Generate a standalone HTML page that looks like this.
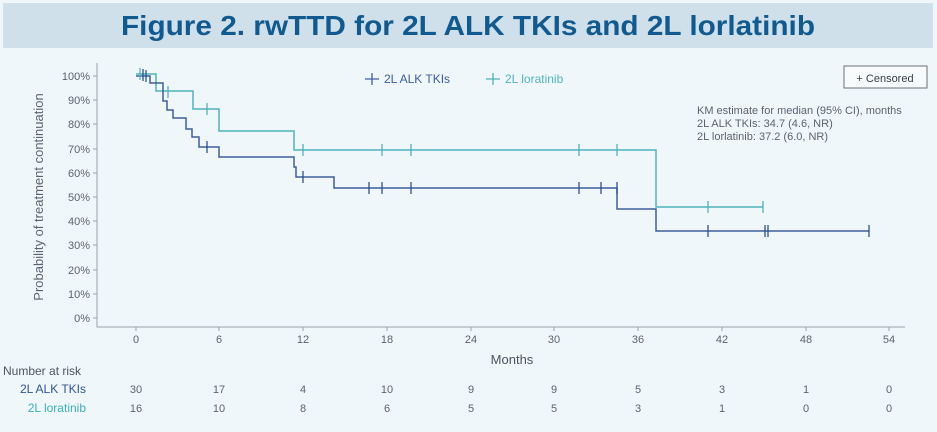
<!DOCTYPE html>
<html><head><meta charset="utf-8"><style>
html,body{margin:0;padding:0;background:#f0f7fa;}
svg{display:block;font-family:"Liberation Sans",sans-serif;}
</style></head><body>
<svg width="937" height="432" viewBox="0 0 937 432">
<rect width="937" height="432" fill="#f0f7fa"/>
<rect x="3" y="3" width="930" height="45" fill="#cfe0ea"/>
<text x="468" y="35" text-anchor="middle" font-size="28" font-weight="bold" fill="#105a8f" textLength="694" lengthAdjust="spacingAndGlyphs">Figure 2. rwTTD for 2L ALK TKIs and 2L lorlatinib</text>
<!-- axes -->
<g stroke="#9aa3ab" stroke-width="1" fill="none">
<path d="M97,63 V327 H905"/>
<path d="M93,76h4M93,100h4M93,124h4M93,149h4M93,173h4M93,197h4M93,221h4M93,245h4M93,270h4M93,294h4M93,318h4"/>
<path d="M136,327v4M219,327v4M303,327v4M387,327v4M471,327v4M554,327v4M638,327v4M722,327v4M806,327v4M889,327v4"/>
</g>
<g font-size="11" fill="#5a6470" text-anchor="end">
<text x="90" y="80">100%</text><text x="90" y="104">90%</text><text x="90" y="128">80%</text><text x="90" y="153">70%</text><text x="90" y="177">60%</text><text x="90" y="201">50%</text><text x="90" y="225">40%</text><text x="90" y="249">30%</text><text x="90" y="274">20%</text><text x="90" y="298">10%</text><text x="90" y="322">0%</text>
</g>
<text transform="translate(43,197) rotate(-90)" text-anchor="middle" font-size="13" fill="#5a6470">Probability of treatment continuation</text>
<g font-size="11" fill="#5a6470" text-anchor="middle">
<text x="136" y="343">0</text><text x="219" y="343">6</text><text x="303" y="343">12</text><text x="387" y="343">18</text><text x="471" y="343">24</text><text x="554" y="343">30</text><text x="638" y="343">36</text><text x="722" y="343">42</text><text x="806" y="343">48</text><text x="889" y="343">54</text>
</g>
<text x="512" y="364" text-anchor="middle" font-size="13" fill="#4a5560">Months</text>
<!-- curves -->
<path d="M136,74 H156 V91 H193 V109 H219 V131 H294 V150 H656 V207 H763" fill="none" stroke="#4fb3b9" stroke-width="1.5"/>
<path d="M136,76 H150 V83 H163 V101 H167 V110 H173 V118 H186 V129 H192 V137 H199 V147 H219 V157 H294 V167 H296 V177 H334 V188 H617 V209 H656 V231 H869" fill="none" stroke="#3d5e9c" stroke-width="1.5"/>
<g stroke="#4fb3b9" stroke-width="1.3">
<path d="M140,68v12M168,86v12M207,103v12M303,144v12M382,144v12M411,144v12M579,144v12M617,144v12M708,201v12M763,201v12"/>
</g>
<g stroke="#2f4f8e" stroke-width="1.3">
<path d="M143,69v12M146,70v12M207,141v12M303,171v12M369,182v12M382,182v12M411,182v12M579,182v12M601,182v12M617,182v12M708,225v12M765,225v12M768,225v12M869,225v12"/>
</g>
<!-- legend -->
<path d="M365,79h14M372,73v12" stroke="#3d5e9c" stroke-width="1.3"/>
<text x="384" y="83" font-size="12" fill="#3d5e9c">2L ALK TKIs</text>
<path d="M486,79h14M493,73v12" stroke="#4fb3b9" stroke-width="1.3"/>
<text x="505" y="83" font-size="12" fill="#4fb3b9">2L loratinib</text>
<rect x="844" y="66" width="83" height="22" fill="#f7fbfc" stroke="#6a7078" stroke-width="1"/>
<text x="885" y="82" text-anchor="middle" font-size="11" fill="#3a3f45">+ Censored</text>
<g font-size="11" fill="#5a6470">
<text x="697" y="114">KM estimate for median (95% CI), months</text>
<text x="697" y="127">2L ALK TKIs: 34.7 (4.6, NR)</text>
<text x="697" y="140">2L lorlatinib: 37.2 (6.0, NR)</text>
</g>
<!-- number at risk -->
<text x="3" y="375" font-size="12" fill="#4a5560">Number at risk</text>
<text x="86" y="393" text-anchor="end" font-size="12" fill="#2f5597">2L ALK TKIs</text>
<text x="86" y="412" text-anchor="end" font-size="12" fill="#3ab0b8">2L loratinib</text>
<g font-size="11" fill="#5a6470" text-anchor="middle">
<text x="136" y="393">30</text><text x="219" y="393">17</text><text x="303" y="393">4</text><text x="387" y="393">10</text><text x="471" y="393">9</text><text x="554" y="393">9</text><text x="638" y="393">5</text><text x="722" y="393">3</text><text x="806" y="393">1</text><text x="889" y="393">0</text>
<text x="136" y="412">16</text><text x="219" y="412">10</text><text x="303" y="412">8</text><text x="387" y="412">6</text><text x="471" y="412">5</text><text x="554" y="412">5</text><text x="638" y="412">3</text><text x="722" y="412">1</text><text x="806" y="412">0</text><text x="889" y="412">0</text>
</g>
</svg>
</body></html>
